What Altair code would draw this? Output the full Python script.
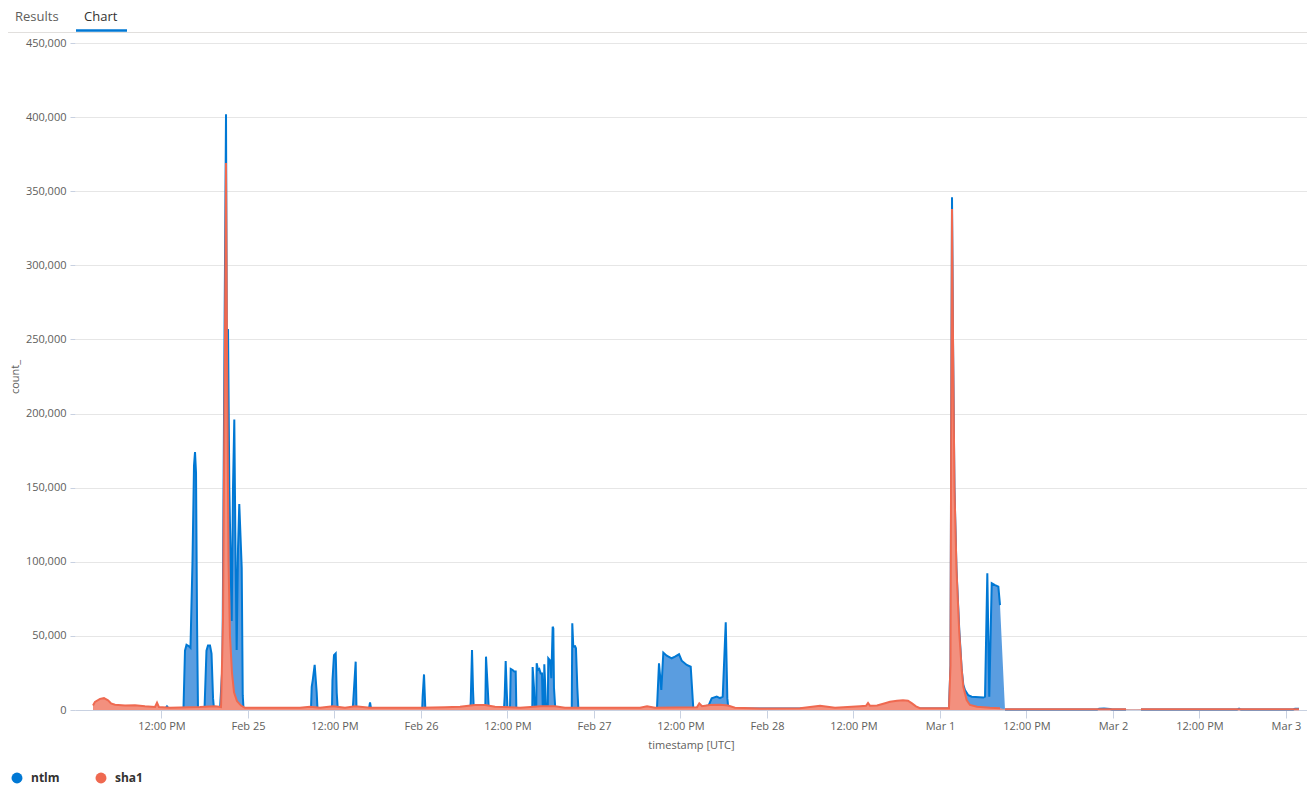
import altair as alt
import pandas as pd

FONT = "Segoe UI, Open Sans, sans-serif"
START = pd.Timestamp("2023-02-24T00:00:00Z")
END_HOURS = 170.92

series_names = ["ntlm", "sha1"]
line_colors = ["#0078d4", "#ef6950"]
fill_colors = ["#5a9de0", "#f3907e"]

# hours since Feb 24 00:00 UTC; None marks a gap in the series
ntlm_hours = [
    2.50, 11.79, 12.49, 12.76, 13.04, 15.05, 15.26, 15.47, 15.82, 16.02, 16.30, 16.51, 16.65, 16.79, 16.93, 17.06,
    17.97, 18.24, 18.45, 18.73, 18.94, 19.15, 19.28, 20.12, 20.46, 20.74, 20.95, 21.09, 21.23, 21.41, 21.74,
    21.92, 22.10, 22.24, 22.43, 22.62, 22.79, 23.13, 23.27, 23.38,
    32.74, 32.84, 32.98, 33.25, 33.53, 33.64, 35.65, 35.72, 35.93, 36.17, 36.31, 36.45,
    38.54, 38.94, 39.05, 40.79, 40.93, 41.07, 48.17, 48.23, 48.42, 48.60,
    54.84, 54.90, 55.08, 55.22, 55.32, 56.92, 57.02, 57.26, 57.40,
    59.52, 59.61, 59.75, 59.89, 60.00, 60.35, 60.45, 60.72, 60.95, 61.14, 61.23,
    63.44, 63.49, 63.68, 63.78, 63.99, 64.05, 64.23, 64.41, 64.61, 64.79, 64.89,
    65.04, 65.11, 65.25, 65.34, 65.59, 65.66, 65.90, 66.08, 66.27, 66.36, 66.45, 66.63,
    68.92, 68.99, 69.13, 69.37, 69.50, 69.69, 69.83,
    80.74, 81.02, 81.34, 81.62, 82.09, 82.78, 83.24, 83.80, 84.17, 84.87, 85.42, 85.78,
    87.89, 88.33, 89.03, 89.48, 89.86, 90.28, 90.50, 90.64,
    121.25, 121.46, 121.57, 121.67, 121.81, 122.01, 122.29, 122.68, 123.02, 123.24, 123.47, 123.93, 124.40,
    126.01, 126.25, 126.57, 126.84, 127.18, 127.64, 128.10, 128.33,
    None,
    129.02, 141.79, 142.07, 142.76, 143.59, 143.87, 145.81,
    None,
    147.89, 161.21, 161.49, 161.77, 168.98, 169.26, 169.81,
]
ntlm_values = [
    800, 800, 800, 2500, 800, 1000, 40000, 44000, 43000, 42000, 100000, 165000, 174000, 160000, 60000, 1000,
    1000, 40000, 43500, 43500, 38000, 8000, 1000, 1000, 30000, 250000, 402000, 200000, 257000, 150000, 60000,
    150000, 196000, 120000, 40500, 110000, 139000, 96000, 10000, 1000,
    1000, 15700, 20000, 30400, 12000, 1000, 1000, 20000, 37000, 38200, 11500, 1000,
    1000, 32600, 1000, 1000, 5200, 1000, 1000, 9000, 24000, 1000,
    1000, 5600, 40500, 13500, 1000, 1000, 36000, 14600, 1000,
    1000, 9000, 33000, 13500, 1000, 1000, 27700, 27000, 25900, 25900, 1000,
    1000, 29000, 15000, 1000, 1000, 31500, 27000, 27700, 24700, 24700, 1000,
    1000, 30800, 15000, 1000, 1000, 34900, 33500, 21400, 56200, 55000, 15000, 1000,
    1000, 58500, 42700, 43000, 41600, 15000, 1000,
    1000, 31500, 13500, 38700, 36600, 34900, 36000, 37600, 33300, 30400, 29200, 1000,
    3000, 7900, 9000, 8000, 9000, 59200, 8000, 1000,
    1000, 30000, 200000, 346000, 250000, 150000, 95000, 54000, 27000, 17000, 13500, 10000, 9000,
    8500, 9000, 92200, 9000, 85500, 84300, 83200, 70800,
    None,
    300, 300, 900, 1000, 700, 300, 300,
    None,
    300, 300, 900, 300, 300, 800, 800,
]

sha1_hours = [
    2.50, 2.77, 3.47, 4.02, 4.58, 4.99, 5.55, 6.94, 8.32, 9.71, 11.10, 11.38, 11.65, 13.18, 17.34, 19.42,
    20.26, 20.53, 20.81, 20.95, 21.09, 21.30, 21.50, 21.78, 22.06, 22.47, 23.03, 23.58,
    31.22, 32.60, 33.99, 35.79, 37.46, 38.85, 40.93, 47.86, 51.33, 53.41, 55.49, 56.88, 58.27,
    61.74, 64.64, 66.59, 67.98, 72.84, 78.39, 79.36, 80.47, 86.29, 86.61, 86.99, 88.10, 89.48, 90.59,
    91.56, 95.03, 100.58, 103.36, 105.44, 108.91, 109.74, 110.02, 110.30, 111.27, 112.38, 113.07,
    114.04, 114.87, 115.56, 116.12, 116.67, 117.23,
    121.25, 121.46, 121.57, 121.67, 121.81, 122.01, 122.29, 122.68, 123.02, 123.24, 123.70, 124.16,
    125.14, 126.94, 128.33,
    None,
    129.02, 145.81,
    None,
    147.89, 169.81,
]
sha1_values = [
    3000, 5500, 7500, 8000, 6500, 4500, 3500, 3000, 3200, 2500, 2000, 5000, 2000, 1500, 2000, 2500,
    2000, 60000, 250000, 369000, 240000, 100000, 50000, 25000, 12000, 6000, 3000, 1500,
    1500, 2200, 1500, 2500, 1500, 2500, 1500, 1500, 1800, 2200, 3400, 3400, 2200,
    1500, 2500, 2500, 1500, 1500, 1500, 2500, 1500, 1800, 4500, 2500, 3400, 3600, 3000,
    1500, 1000, 1200, 2800, 1500, 2500, 2800, 4700, 2800, 3000, 4500, 5500,
    6300, 6500, 6300, 4500, 2500, 1200,
    1200, 30000, 200000, 338000, 250000, 150000, 95000, 52000, 27000, 15700, 6700, 3400,
    2200, 1500, 1200,
    None,
    500, 500,
    None,
    500, 500,
]

y_ticks = [0, 50000, 100000, 150000, 200000, 250000, 300000, 350000, 400000, 450000]
x_tick_hours = [12, 24, 36, 48, 60, 72, 84, 96, 108, 120, 132, 144, 156, 168]


def to_ms(h):
    return int((START + pd.Timedelta(hours=h)).value // 10**6)


def rows(name, hours, values):
    out, seg = [], 0
    for h, v in zip(hours, values):
        if v is None:
            seg += 1
            continue
        out.append({"series": name, "seg": f"{name}-{seg}", "t": to_ms(h), "count_": v})
    return out


df = pd.DataFrame(rows("ntlm", ntlm_hours, ntlm_values) + rows("sha1", sha1_hours, sha1_values))

x_enc = alt.X(
    "t:T",
    title="timestamp [UTC]",
    scale=alt.Scale(type="utc", domain=[to_ms(0), to_ms(END_HOURS)]),
    axis=alt.Axis(
        values=[to_ms(h) for h in x_tick_hours],
        labelExpr="utchours(datum.value) == 0 ? utcFormat(datum.value, '%b %-d') : utcFormat(datum.value, '%-I:%M %p')",
        grid=False,
        tickSize=8,
        labelPadding=2,
        titlePadding=8,
        labelFlush=False,
        labelOverlap=False,
    ),
)
y_enc = alt.Y(
    "count_:Q",
    title="count_",
    scale=alt.Scale(domain=[0, 450000]),
    axis=alt.Axis(values=y_ticks, format=",d", domain=False, tickSize=5, labelPadding=4, titlePadding=5),
)

base = alt.Chart(df).encode(x=x_enc, y=y_enc, detail="seg:N")


def layer_for(name, fill, stroke):
    f = base.transform_filter(f"datum.series == '{name}'")
    return [
        f.mark_area(color=fill, opacity=1, interpolate="linear"),
        f.mark_line(color=stroke, strokeWidth=2, interpolate="linear"),
    ]


legend_layer = alt.Chart(df).transform_filter("datum.count_ < 0").mark_circle(opacity=1).encode(
    x=x_enc,
    y=y_enc,
    color=alt.Color(
        "series:N",
        scale=alt.Scale(domain=series_names, range=line_colors),
        legend=alt.Legend(
            title=None,
            orient="none",
            direction="horizontal",
            legendX=-64,
            legendY=729,
            symbolType="circle",
            symbolSize=120,
            symbolStrokeWidth=0,
            labelFont=FONT,
            labelFontSize=12,
            labelFontWeight="bold",
            labelColor="#323130",
            labelOffset=8,
            columnPadding=35,
        ),
    ),
)

one = alt.Data(values=[{}])
separator = alt.Chart(one).mark_rule(color="#e1dfdd", strokeWidth=1).encode(
    x=alt.value(-67), x2=alt.value(1241), y=alt.value(-10.5)
)
underline = alt.Chart(one).mark_rule(color="#0078d4", strokeWidth=2.5).encode(
    x=alt.value(1), x2=alt.value(52), y=alt.value(-12.5)
)
tab_results = alt.Chart(one).mark_text(
    text="Results", align="left", baseline="middle", font=FONT, fontSize=13, color="#605e5c"
).encode(x=alt.value(-60), y=alt.value(-26))
tab_chart = alt.Chart(one).mark_text(
    text="Chart", align="left", baseline="middle", font=FONT, fontSize=13, color="#323130"
).encode(x=alt.value(9), y=alt.value(-26))

layers = (
    [separator, underline, tab_results, tab_chart]
    + layer_for("ntlm", fill_colors[0], line_colors[0])
    + layer_for("sha1", fill_colors[1], line_colors[1])
    + [legend_layer]
)

chart = (
    alt.layer(*layers)
    .properties(
        width=1232,
        height=667,
        autosize=alt.AutoSizeParams(type="none"),
        padding={"left": 67, "top": 35, "right": 0, "bottom": 76},
    )
    .configure_view(stroke=None)
    .configure_axis(
        labelFont=FONT,
        titleFont=FONT,
        labelColor="#605e5c",
        titleColor="#605e5c",
        labelFontSize=11,
        titleFontSize=11,
        titleFontWeight="normal",
        gridColor="#e6e6e6",
        domainColor="#c8d1e1",
        tickColor="#c8d1e1",
    )
)

chart.save("out.html", embed_options={"renderer": "svg", "actions": False})
